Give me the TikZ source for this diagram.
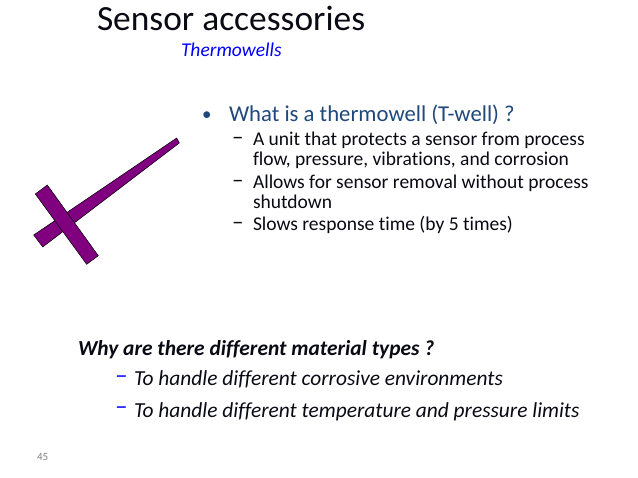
\documentclass[tikz,border=0pt]{standalone}
\usepackage{fontspec}
\setmainfont[Ligatures=NoCommon]{Carlito}
\definecolor{tblue}{RGB}{31,73,125}
\definecolor{pur}{RGB}{128,0,128}
\definecolor{titleblk}{RGB}{10,10,20}
\tikzset{txt/.style={anchor=base west,inner sep=0pt,outer sep=0pt},
sub/.style={txt,font=\fontsize{19.5}{20}\selectfont,text=titleblk},
subdash/.style={sub,font=\fontsize{23}{24}\selectfont},
em/.style={txt,font=\fontsize{21.4}{23}\selectfont\itshape,text=titleblk},
emdash/.style={em,font=\fontsize{25}{26}\selectfont\itshape,text=blue},
bar/.style={fill=pur,draw=black,line width=0.5pt}}
\begin{document}
\begin{tikzpicture}[x=1pt,y=-1pt]
\useasboundingbox (0,0) rectangle (638,478);
\fill[white] (0,0) rectangle (638,478);
\node[txt,font=\fontsize{35.4}{38}\selectfont,text=titleblk] (title) at (97,30.5) {Sensor accessories};
\node[txt,font=\fontsize{19.5}{21}\selectfont\itshape,text=blue] (sub) at (181,57) {Thermowells};
\node[txt,font=\fontsize{19}{24}\selectfont,text=tblue] (b) at (202,121) {•};
\node[txt,font=\fontsize{22.7}{24}\selectfont,text=tblue] (q) at (229,122) {What is a thermowell (T-well) ?};
\node[subdash] (d1) at (232,144.5) {–};
\node[sub] (l1) at (253,146) {A unit that protects a sensor from process};
\node[sub] (l2) at (253,166) {flow, pressure, vibrations, and corrosion};
\node[subdash] (d2) at (232,187.5) {–};
\node[sub] (l3) at (253,189) {Allows for sensor removal without process};
\node[sub] (l4) at (253,209) {shutdown};
\node[subdash] (d3) at (232,229.5) {–};
\node[sub] (l5) at (253,231) {Slows response time (by 5 times)};
\node[em,font=\fontsize{21.4}{23}\selectfont\bfseries\itshape] (w) at (78,355.5) {Why are there different material types ?};
\node[emdash] (d4) at (115,383.5) {–};
\node[em] (e1) at (134,386) {To handle different corrosive environments};
\node[emdash] (d5) at (115,415) {–};
\node[em] (e2) at (134,418) {To handle different temperature and pressure limits};
\node[txt,font=\fontsize{11}{12}\selectfont,text=gray] (n) at (37,461) {45};
\draw[bar] (33.7,235) -- (176.7,138) -- (179.3,143) -- (42.7,247) -- cycle;
\draw[bar] (35.3,194) -- (47.3,185) -- (98.3,255.7) -- (86.7,264.3) -- cycle;
\end{tikzpicture}
\end{document}
